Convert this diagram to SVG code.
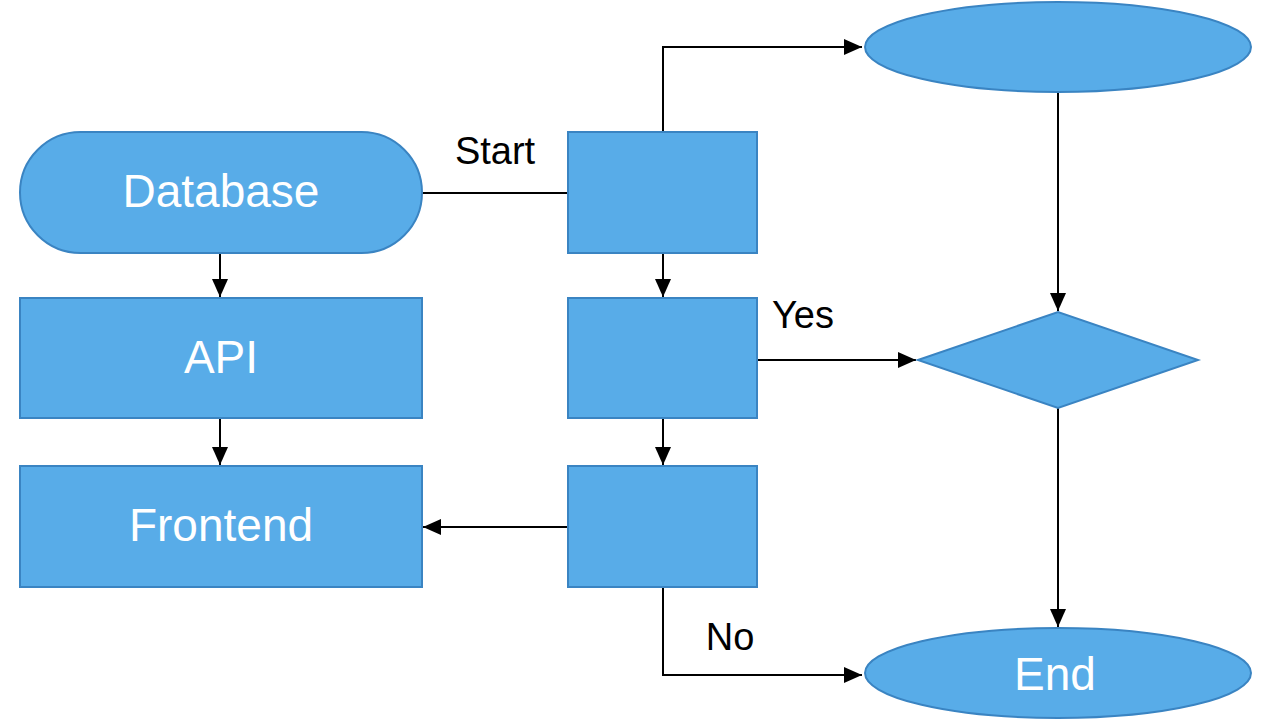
<svg xmlns="http://www.w3.org/2000/svg" width="1280" height="720" viewBox="0 0 1280 720">
<style>
.n{fill:#58ACE8;stroke:#3A84C2;stroke-width:2}
.c{fill:none;stroke:#000;stroke-width:2}
.t{font-family:"Liberation Sans",Arial,sans-serif;font-size:46px;fill:#fff;text-anchor:middle}
.l{font-family:"Liberation Sans",Arial,sans-serif;font-size:38px;fill:#000;text-anchor:middle}
</style>
<defs><marker id="a" markerWidth="10" markerHeight="10" refX="9" refY="5" orient="auto" markerUnits="userSpaceOnUse" viewBox="0 0 10 10"><path d="M0,0L10,5L0,10Z" fill="#000"/></marker>
<marker id="b" markerWidth="18" markerHeight="16" refX="18" refY="8" orient="auto" markerUnits="userSpaceOnUse"><path d="M0,0L18,8L0,16Z" fill="#000"/></marker></defs>
<rect width="1280" height="720" fill="#fff"/>
<g id="connectors">
<path class="c" d="M422,193H568"/>
<path class="c" d="M663,132V47H862" marker-end="url(#b)"/>
<path class="c" d="M663,253V297" marker-end="url(#b)"/>
<path class="c" d="M663,418V465" marker-end="url(#b)"/>
<path class="c" d="M757,360H916" marker-end="url(#b)"/>
<path class="c" d="M568,527H423" marker-end="url(#b)"/>
<path class="c" d="M663,587V675H862" marker-end="url(#b)"/>
<path class="c" d="M1058,92V311" marker-end="url(#b)"/>
<path class="c" d="M1058,408V627" marker-end="url(#b)"/>
<path class="c" d="M220,253V297" marker-end="url(#b)"/>
<path class="c" d="M220,418V465" marker-end="url(#b)"/>
<text class="l" x="495" y="164">Start</text>
<text class="l" x="803" y="328">Yes</text>
<text class="l" x="730" y="650">No</text>
</g>
<g id="database"><rect class="n" x="20" y="132" width="402" height="121" rx="60.5"/><text class="t" x="221" y="207">Database</text></g>
<g id="api"><rect class="n" x="20" y="298" width="402" height="120"/><text class="t" x="221" y="373">API</text></g>
<g id="frontend"><rect class="n" x="20" y="466" width="402" height="121"/><text class="t" x="221" y="541">Frontend</text></g>
<g id="box1"><rect class="n" x="568" y="132" width="189" height="121"/></g>
<g id="box2"><rect class="n" x="568" y="298" width="189" height="120"/></g>
<g id="box3"><rect class="n" x="568" y="466" width="189" height="121"/></g>
<g id="top"><ellipse class="n" cx="1058" cy="47" rx="193" ry="45"/></g>
<g id="decision"><polygon class="n" points="918,360 1058,312 1198,360 1058,408"/></g>
<g id="end"><ellipse class="n" cx="1058" cy="673" rx="193" ry="45"/><text class="t" x="1055" y="690">End</text></g>
</svg>
